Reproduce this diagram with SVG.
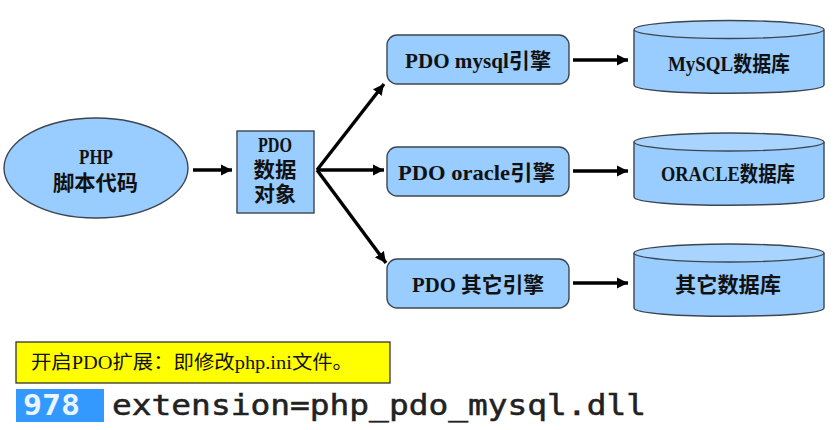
<svg xmlns="http://www.w3.org/2000/svg" width="834" height="430" viewBox="0 0 834 430">
<style>
.s{fill:#99ccff;stroke:#3c4650;stroke-width:1.4}
.l{fill:#a8d4ff}
.t{font-family:"Liberation Serif","Noto Sans CJK SC",serif;font-size:21px;font-weight:bold;fill:#111;text-anchor:middle;lengthAdjust:spacingAndGlyphs}
.c{fill:none;stroke:#000;stroke-width:3.4}
</style>
<defs><marker id="a" markerUnits="userSpaceOnUse" markerWidth="14" markerHeight="14" refX="11" refY="6" orient="auto"><path d="M0 0.5L11 6L0 11.5Z" fill="#000"/></marker></defs>
<rect width="834" height="430" fill="#fff"/>
<g id="connectors">
<path class="c" d="M193 170H232" marker-end="url(#a)"/>
<path class="c" d="M317 170L384 84" marker-end="url(#a)"/>
<path class="c" d="M317 170H384" marker-end="url(#a)"/>
<path class="c" d="M317 170L386 263" marker-end="url(#a)"/>
<path class="c" d="M573 60H628" marker-end="url(#a)"/>
<path class="c" d="M573 171H628" marker-end="url(#a)"/>
<path class="c" d="M573 283H628" marker-end="url(#a)"/>
</g>
<g id="php"><ellipse class="s" cx="96" cy="168" rx="92" ry="50"/><text class="t" x="96" y="164" textLength="34" lengthAdjust="spacingAndGlyphs">PHP</text><text class="t" x="95.500" y="190" textLength="85" lengthAdjust="spacingAndGlyphs">脚本代码</text></g>
<g id="pdo"><rect class="s" x="237" y="131" width="77" height="82"/><text class="t" x="275" y="152" textLength="34" lengthAdjust="spacingAndGlyphs">PDO</text><text class="t" x="275" y="177" textLength="43" lengthAdjust="spacingAndGlyphs">数据</text><text class="t" x="275" y="201" textLength="42" lengthAdjust="spacingAndGlyphs">对象</text></g>
<g id="e1"><rect class="s" x="387" y="35" width="182" height="49" rx="10"/><text class="t" x="478" y="68" textLength="146" lengthAdjust="spacingAndGlyphs">PDO mysql引擎</text></g>
<g id="e2"><rect class="s" x="387" y="147" width="182" height="49" rx="10"/><text class="t" x="476.500" y="180" textLength="157" lengthAdjust="spacingAndGlyphs">PDO oracle引擎</text></g>
<g id="e3"><rect class="s" x="387" y="259" width="182" height="49" rx="10"/><text class="t" x="478" y="292" textLength="132" lengthAdjust="spacingAndGlyphs">PDO 其它引擎</text></g>
<g id="db1"><path class="s" d="M634 30V85C634 96 824 96 824 85V30"/><ellipse class="s l" cx="729" cy="29.500" rx="95" ry="9"/><text class="t" x="729" y="71" textLength="122" lengthAdjust="spacingAndGlyphs">MySQL数据库</text></g>
<g id="db2"><path class="s" d="M634 142V197C634 208 824 208 824 197V142"/><ellipse class="s l" cx="729" cy="142" rx="95" ry="9"/><text class="t" x="728" y="181" textLength="134" lengthAdjust="spacingAndGlyphs">ORACLE数据库</text></g>
<g id="db3"><path class="s" d="M634 253V308C634 319 824 319 824 308V253"/><ellipse class="s l" cx="729" cy="253" rx="95" ry="9"/><text class="t" x="728" y="292" textLength="106" lengthAdjust="spacingAndGlyphs">其它数据库</text></g>
<g id="note"><rect x="16" y="342" width="374" height="41" fill="#ffff00" stroke="#333" stroke-width="1.3"/><text x="31" y="369" font-family="'Liberation Serif','Noto Sans CJK SC',serif" font-size="19" fill="#111" textLength="322" lengthAdjust="spacingAndGlyphs">开启PDO扩展：即修改php.ini文件。</text></g>
<g id="code"><rect x="16" y="389" width="88" height="33" fill="#3399ff"/><text x="23" y="415" font-family="'DejaVu Sans Mono',monospace" font-size="29" font-weight="bold" fill="#eaf5ff" textLength="57" lengthAdjust="spacingAndGlyphs">978</text><text x="112" y="415" font-family="'DejaVu Sans Mono',monospace" font-size="28" fill="#222" stroke="#222" stroke-width="0.5" textLength="534" lengthAdjust="spacingAndGlyphs">extension=php_pdo_mysql.dll</text></g>
</svg>
